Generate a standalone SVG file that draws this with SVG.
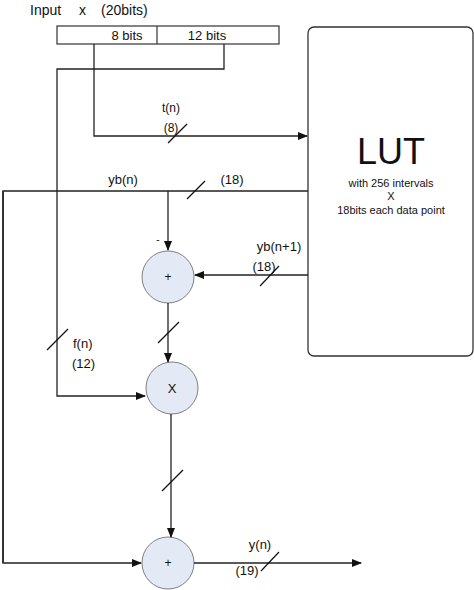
<svg xmlns="http://www.w3.org/2000/svg" width="474" height="590" viewBox="0 0 474 590">
<style>
text{font-family:"Liberation Sans","Open Sans",sans-serif;fill:#111;font-size:13px}
.ln{stroke:#222;stroke-width:1.3;fill:none}
.sl{stroke:#111;stroke-width:1.2}
.op{fill:#e3e9f5;stroke:#808080;stroke-width:1}
.mid{text-anchor:middle}
</style>
<defs>
<marker id="ah" markerWidth="10" markerHeight="8" refX="9" refY="4" orient="auto" markerUnits="userSpaceOnUse">
<path d="M0,0 L10,4 L0,8 Z" fill="#111"/>
</marker>
</defs>
<rect width="474" height="590" fill="#fff"/>
<text x="30" y="15" style="font-size:14px">Input</text>
<text x="79" y="15" style="font-size:14px">x</text>
<text x="101" y="15" style="font-size:14px">(20bits)</text>
<g id="input">
<rect x="57" y="26" width="222" height="18" fill="#fff" stroke="#333" stroke-width="1.2"/>
<line x1="157" y1="26" x2="157" y2="44" stroke="#333" stroke-width="1.2"/>
<text x="127" y="40" class="mid">8 bits</text>
<text x="207" y="40" class="mid">12 bits</text>
</g>
<g id="lut">
<rect x="308" y="27" width="165" height="329" rx="6" fill="#fff" stroke="#333" stroke-width="1.3"/>
<text x="391" y="164" class="mid" style="font-size:36px">LUT</text>
<text x="391" y="187" class="mid" style="font-size:11px">with 256 intervals</text>
<text x="391" y="200" class="mid" style="font-size:11px">X</text>
<text x="391" y="214" class="mid" style="font-size:11px">18bits each data point</text>
</g>
<g id="sub">
<circle cx="168" cy="277" r="26" class="op"/>
<text x="168" y="281" class="mid" style="font-size:12px">+</text>
</g>
<g id="mul">
<circle cx="172" cy="388" r="26" class="op"/>
<text x="172" y="393" class="mid">X</text>
</g>
<g id="add">
<circle cx="168" cy="563" r="26" class="op"/>
<text x="168" y="567" class="mid" style="font-size:12px">+</text>
</g>
<g id="connectors">
<polyline class="ln" points="94,44 94,136 307,136" marker-end="url(#ah)"/>
<polyline class="ln" points="224,44 224,69 57,69 57,396 145,396" marker-end="url(#ah)"/>
<polyline class="ln" points="308,191 3,191 3,563 141,563" marker-end="url(#ah)" style="stroke-width:1.3"/>
<line x1="3" y1="191" x2="3" y2="563" stroke="#333" stroke-width="2"/>
<line class="ln" x1="168" y1="191" x2="168" y2="250" marker-end="url(#ah)"/>
<line class="ln" x1="308" y1="275" x2="195" y2="275" marker-end="url(#ah)"/>
<line class="ln" x1="168" y1="303" x2="168" y2="362" marker-end="url(#ah)"/>
<line class="ln" x1="171" y1="414" x2="171" y2="537" marker-end="url(#ah)"/>
<line class="ln" x1="194" y1="563" x2="361" y2="563" marker-end="url(#ah)"/>
<line class="sl" x1="168" y1="143" x2="187" y2="124"/>
<line class="sl" x1="187" y1="199" x2="205" y2="181"/>
<line class="sl" x1="260" y1="286" x2="279" y2="266"/>
<line class="sl" x1="158" y1="343" x2="179" y2="322"/>
<line class="sl" x1="47" y1="350" x2="68" y2="329"/>
<line class="sl" x1="162" y1="491" x2="183" y2="470"/>
<line class="sl" x1="261" y1="571" x2="279" y2="552"/>
</g>
<text x="171" y="112" class="mid" style="font-size:12px">t(n)</text>
<text x="171" y="132" class="mid" style="font-size:12px">(8)</text>
<text x="123" y="184" class="mid">yb(n)</text>
<text x="232" y="184" class="mid">(18)</text>
<text x="158" y="243" class="mid" style="font-size:10px">-</text>
<text x="279" y="251" class="mid">yb(n+1)</text>
<text x="264" y="271" class="mid">(18)</text>
<text x="73" y="348">f(n)</text>
<text x="72" y="368">(12)</text>
<text x="260" y="549" class="mid">y(n)</text>
<text x="247" y="575" class="mid">(19)</text>
</svg>
